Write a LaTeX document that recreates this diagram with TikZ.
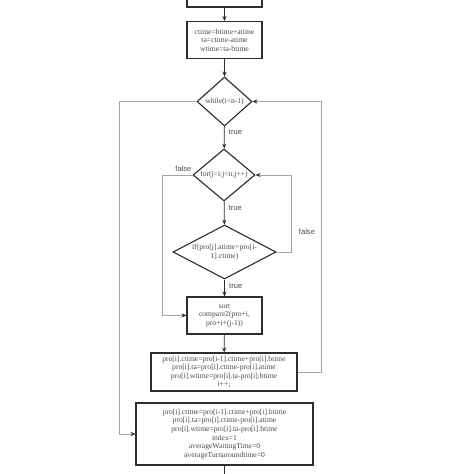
\documentclass[tikz,border=0pt]{standalone}
\usepackage{fontspec}
\setmainfont{Liberation Serif}
\newfontfamily\lblfont{Liberation Sans}
\usetikzlibrary{shapes.geometric,arrows.meta}
\definecolor{myborder}{RGB}{45,45,45}
\definecolor{mytext}{RGB}{75,75,75}
\definecolor{myloop}{RGB}{165,165,165}
\newcommand{\widthbox}{1.875cm}
\newcommand{\heightbox}{0.925cm}
\tikzset{
    common/.style={draw=myborder, line width=0.8pt, text=mytext, align=center, font=\fontsize{5.4}{6.1}\selectfont},
    box/.style={common, rectangle, inner sep=1pt, minimum width=\widthbox, minimum height=\heightbox},
    cond/.style={common, diamond, inner sep=0pt},
    lbl/.style={text=mytext, inner sep=0pt, font=\lblfont\fontsize{5.4}{6}\selectfont},
    flow/.style={->, draw=myborder, line width=0.6pt},
    back/.style={-{Stealth[length=3.5pt,width=3pt,color=myborder]}, draw=myloop, line width=0.5pt}
}

\begin{document}
\begin{tikzpicture}[x=0.025cm, y=-0.025cm, >={Stealth[length=3.5pt,width=3pt]}]
    \useasboundingbox (0,0) rectangle (474,474);

    % steps
    \node[box, minimum height=1cm] (init) at (224.5,-13) {};
    \node[box] (calc) at (224.5,40) {ctime=btime+atime\\ta=ctime-atime\\wtime=ta-btime};
    \node[cond, aspect=1.12, minimum width=1.375cm, minimum height=1.225cm] (while) at (224.5,101.5) {while(i<n-1)};
    \node[cond, aspect=1.2, minimum width=1.55cm, minimum height=1.3cm] (for) at (224,175) {for(j=i;j<n;j++)};
    \node[cond, aspect=1.9, minimum width=2.575cm, minimum height=1.35cm] (if) at (224.5,252) {if(pro[j].atime>pro[i-\\1].ctime)};
    \node[box] (sort) at (224.5,315.5) {sort\\compare2(pro+i,\\pro+i+(j-1))};
    \node[box, minimum width=3.65cm, minimum height=0.95cm] (upd) at (224,372) {pro[i].ctime=pro[i-1].ctime+pro[i].btime\\pro[i].ta=pro[i].ctime-pro[i].atime\\pro[i].wtime=pro[i].ta-pro[i].btime\\i++;};
    \node[box, minimum width=4.425cm, minimum height=1.55cm] (final) at (224.5,434) {pro[i].ctime=pro[i-1].ctime+pro[i].btime\\pro[i].ta=pro[i].ctime-pro[i].atime\\pro[i].wtime=pro[i].ta-pro[i].btime\\index=1\\averageWaitingTime=0\\averageTurnaroundtime=0};
    \coordinate (exit) at (224.5,485);

    % main flow
    \draw[flow] (init) -- (calc);
    \draw[flow] (calc) -- (while);
    \draw[flow] (while) -- node[lbl, right=3pt, pos=0.25] {true} (for);
    \draw[flow] (for) -- node[lbl, right=3pt, pos=0.28] {true} (if);
    \draw[flow] (if) -- node[lbl, right=3pt, pos=0.4] {true} (sort);
    \draw[flow] (sort) -- (upd);
    \draw[flow] (final) -- (exit);

    % loops
    \draw[back] (for.west) -- node[lbl, above=2pt, pos=0.3] {false} ++(-30,0) |- (sort.west);
    \draw[back] (if.east) -- ++(15,0) |- node[lbl, right=5pt, pos=0.13] {false} (for.east);
    \draw[back] (upd.east) -- ++(24,0) |- (while.east);
    \draw[back] (while.west) -- ++(-77,0) |- (final.west);
\end{tikzpicture}
\end{document}
